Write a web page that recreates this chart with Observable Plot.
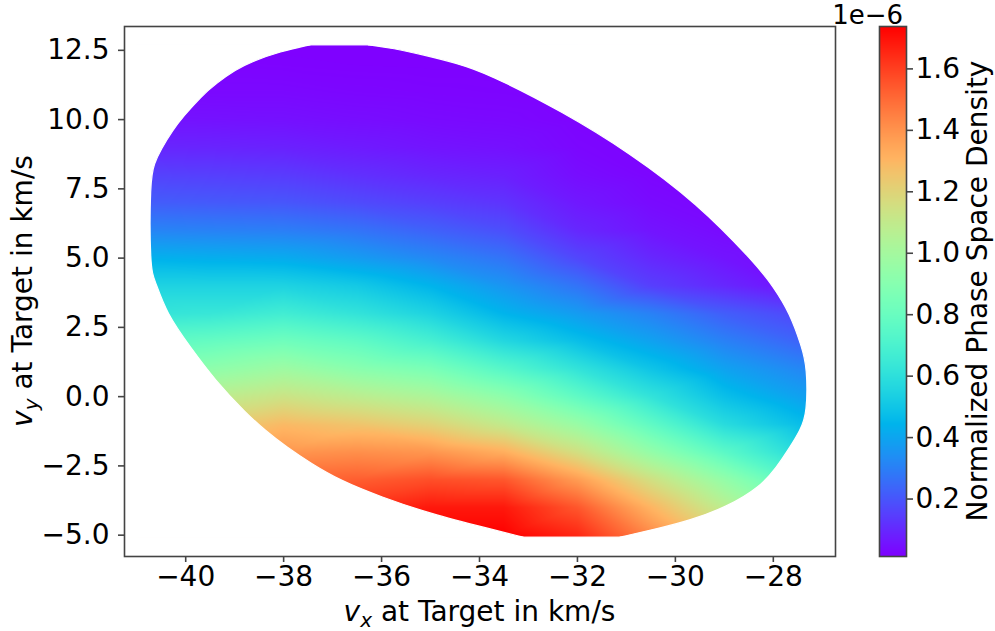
<!DOCTYPE html>
<html><head><meta charset="utf-8">
<script src="https://cdn.jsdelivr.net/npm/d3@7"></script>
<script src="https://cdn.jsdelivr.net/npm/@observablehq/plot@0.6"></script>
<style>
body{margin:0;background:#fff;}
#wrap{position:relative;width:995px;height:631px;}
#wrap svg{position:absolute;left:0;top:0;}
</style></head><body><div id="wrap"></div>
<script>
// Sample grid of the phase-space density (units of 1e-6)
const vxGrid = [-41, -39.5, -38, -36.5, -35, -33.5, -32, -30.5, -29, -27.5, -26];
const vyGrid = [13, 12, 11, 10, 9, 8, 7, 6, 5, 4, 3, 2, 1, 0, -1, -2, -3, -4, -5, -6];
const density = [
  [0.013, 0.013, 0.013, 0.013, 0.013, 0.013, 0.013, 0.013, 0.013, 0.013, 0.013],
  [0.020, 0.020, 0.018, 0.016, 0.015, 0.015, 0.013, 0.013, 0.013, 0.013, 0.013],
  [0.032, 0.030, 0.030, 0.025, 0.022, 0.020, 0.015, 0.013, 0.013, 0.013, 0.013],
  [0.054, 0.051, 0.048, 0.041, 0.034, 0.030, 0.020, 0.015, 0.013, 0.013, 0.013],
  [0.096, 0.091, 0.085, 0.070, 0.056, 0.048, 0.027, 0.018, 0.015, 0.013, 0.013],
  [0.160, 0.151, 0.142, 0.117, 0.096, 0.082, 0.041, 0.023, 0.018, 0.013, 0.013],
  [0.220, 0.211, 0.203, 0.177, 0.151, 0.125, 0.065, 0.035, 0.023, 0.016, 0.013],
  [0.315, 0.306, 0.298, 0.272, 0.229, 0.186, 0.099, 0.056, 0.034, 0.022, 0.018],
  [0.436, 0.427, 0.418, 0.375, 0.324, 0.272, 0.168, 0.099, 0.056, 0.030, 0.022],
  [0.548, 0.548, 0.548, 0.513, 0.444, 0.358, 0.272, 0.151, 0.099, 0.048, 0.030],
  [0.617, 0.634, 0.669, 0.617, 0.548, 0.444, 0.375, 0.306, 0.220, 0.168, 0.117],
  [0.755, 0.789, 0.824, 0.772, 0.686, 0.565, 0.479, 0.393, 0.306, 0.237, 0.203],
  [0.876, 0.927, 0.979, 0.910, 0.858, 0.738, 0.617, 0.496, 0.393, 0.324, 0.272],
  [1.014, 1.083, 1.134, 1.083, 1.031, 0.927, 0.772, 0.617, 0.479, 0.393, 0.341],
  [1.152, 1.221, 1.290, 1.255, 1.203, 1.100, 0.962, 0.772, 0.582, 0.479, 0.410],
  [1.255, 1.324, 1.393, 1.410, 1.393, 1.324, 1.152, 0.945, 0.755, 0.582, 0.496],
  [1.341, 1.410, 1.479, 1.531, 1.566, 1.548, 1.376, 1.152, 0.945, 0.738, 0.634],
  [1.393, 1.479, 1.566, 1.635, 1.686, 1.686, 1.548, 1.307, 1.083, 0.876, 0.755],
  [1.445, 1.531, 1.617, 1.686, 1.738, 1.738, 1.652, 1.428, 1.186, 0.979, 0.841],
  [1.479, 1.566, 1.652, 1.704, 1.738, 1.738, 1.704, 1.497, 1.255, 1.048, 0.910]
];

const leftVy  = [-5.09, -4.79, -4.24, -3.64, -3.04, -2.44, -1.84, -1.23, -0.63, 0.57, 1.78, 2.98, 4.19, 4.6, 7.8, 8.41, 8.89, 9.61, 10.09, 10.81, 11.30, 11.78, 12.08, 12.44, 12.68];
const leftVx  = [-33.1, -33.78, -35.0, -36.0, -36.84, -37.42, -37.93, -38.37, -38.75, -39.39, -39.9, -40.38, -40.62, -40.72, -40.72, -40.63, -40.5, -40.25, -40.04, -39.68, -39.36, -38.97, -38.64, -38.06, -37.45];
const rightVy = [-5.09, -4.79, -4.49, -4.0, -3.28, -2.56, -1.84, -1.23, -0.63, 1.05, 1.78, 2.98, 3.93, 4.8, 6.97, 8.78, 10.26, 11.66, 12.02, 12.32, 12.56, 12.68];
const rightVx = [-31.12, -30.37, -29.7, -28.94, -28.26, -27.92, -27.65, -27.44, -27.3, -27.3, -27.41, -27.65, -27.98, -28.36, -29.55, -30.92, -32.28, -33.84, -34.46, -35.14, -35.75, -36.26];

// Axes
const xTicks = [-40, -38, -36, -34, -32, -30, -28];
const yTicks = [-5, -2.5, 0, 2.5, 5, 7.5, 10, 12.5];
const cbarTicks = [0.2, 0.4, 0.6, 0.8, 1.0, 1.2, 1.4, 1.6];
const xLimits = [-41.25, -26.73];
const yLimits = [-5.77, 13.36];
const colorLimits = [0.013, 1.738];
const xLabel = "at Target in km/s";
const yLabel = "at Target in km/s";
const cbarLabel = "Normalized Phase Space Density";
const cbarExponent = "1e\u22126";

// matplotlib "rainbow" colormap
function rainbow(t) {
  const r = Math.min(1, Math.abs(2 * t - 0.5));
  const g = Math.max(0, Math.sin(Math.PI * t));
  const b = Math.max(0, Math.cos(Math.PI * t / 2));
  return `rgb(${Math.round(255 * r)},${Math.round(255 * g)},${Math.round(255 * b)})`;
}

const samples = vyGrid.flatMap((vy, i) => vxGrid.map((vx, j) => ({vx, vy, v: density[i][j]})));
const leftEdge = leftVy.map((vy, i) => ({vy, vx: leftVx[i]}));
const rightEdge = rightVy.map((vy, i) => ({vy, vx: rightVx[i]}));
const topY = Math.max(d3.max(leftVy), d3.max(rightVy));
const botY = Math.min(d3.min(leftVy), d3.min(rightVy));

const W = 995, H = 631;
const frame = {left: 124, right: 835, top: 26, bottom: 556};
const font = {fontFamily: "'DejaVu Sans', sans-serif", fontSize: "28px", color: "#000", background: "transparent"};
const colorScale = {type: "linear", domain: colorLimits, interpolate: rainbow, clamp: true};
const lineColor = "#444";
const mask = {fill: "white", stroke: "white", strokeWidth: 1.2};

const main = Plot.plot({
  width: W, height: H,
  marginLeft: frame.left, marginRight: W - frame.right, marginTop: frame.top, marginBottom: H - frame.bottom,
  x: {domain: xLimits},
  y: {domain: yLimits},
  color: colorScale,
  style: font,
  marks: [
    Plot.raster(samples, {
      x: "vx", y: "vy", fill: "v", interpolate: "barycentric",
      x1: xLimits[0], x2: xLimits[1], y1: yLimits[0], y2: yLimits[1]
    }),
    Plot.areaX(leftEdge, {y: "vy", x1: xLimits[0], x2: "vx", curve: "basis", ...mask}),
    Plot.areaX(rightEdge, {y: "vy", x1: "vx", x2: xLimits[1], curve: "basis", ...mask}),
    Plot.rect([topY], {x1: xLimits[0], x2: xLimits[1], y1: d => d, y2: yLimits[1], ...mask}),
    Plot.rect([botY], {x1: xLimits[0], x2: xLimits[1], y1: yLimits[0], y2: d => d, ...mask}),
    Plot.frame({stroke: lineColor, strokeWidth: 1.6}),
    Plot.axisX({ticks: xTicks, tickFormat: d3.format("d"), tickSize: 6, tickPadding: 4, label: null, stroke: lineColor, strokeWidth: 1.6}),
    Plot.axisY({ticks: yTicks, tickFormat: d3.format(".1f"), tickSize: 6, tickPadding: 9, label: null, stroke: lineColor, strokeWidth: 1.6})
  ]
});

const cbar = Plot.plot({
  width: W, height: H,
  marginLeft: 879, marginRight: W - 906, marginTop: frame.top, marginBottom: H - frame.bottom,
  x: {domain: [0, 1], axis: null},
  y: {domain: colorLimits},
  color: colorScale,
  style: font,
  marks: [
    Plot.raster({x1: 0, x2: 1, y1: colorLimits[0], y2: colorLimits[1], fill: (x, y) => y}),
    Plot.frame({stroke: lineColor, strokeWidth: 1.6}),
    Plot.axisY({anchor: "right", ticks: cbarTicks, tickFormat: d3.format(".1f"), tickSize: 6, tickPadding: 3, label: null, stroke: lineColor, strokeWidth: 1.6})
  ]
});

const wrap = document.getElementById("wrap");
wrap.appendChild(main);
wrap.appendChild(cbar);

// axis titles with math-style italic v and subscript
const ms = d3.select(main);
const xt = ms.append("text")
  .attr("x", (frame.left + frame.right) / 2).attr("y", 621)
  .attr("text-anchor", "middle").attr("fill", "#000");
xt.append("tspan").attr("font-style", "italic").text("v");
xt.append("tspan").attr("font-style", "italic").attr("font-size", "20px").attr("dy", 6).text("x");
xt.append("tspan").attr("dy", -6).text(" " + xLabel);

const yt = ms.append("text")
  .attr("transform", `translate(32,${(frame.top + frame.bottom) / 2}) rotate(-90)`)
  .attr("text-anchor", "middle").attr("fill", "#000");
yt.append("tspan").attr("font-style", "italic").text("v");
yt.append("tspan").attr("font-style", "italic").attr("font-size", "20px").attr("dy", 6).text("y");
yt.append("tspan").attr("dy", -6).text(" " + yLabel);

const cs = d3.select(cbar);
cs.append("text").attr("x", 903).attr("y", 24).attr("text-anchor", "end").attr("font-size", "26px").attr("fill", "#000").text(cbarExponent);
cs.append("text")
  .attr("transform", `translate(987,${(frame.top + frame.bottom) / 2}) rotate(-90)`)
  .attr("text-anchor", "middle").attr("fill", "#000").text(cbarLabel);
</script>
</body></html>
